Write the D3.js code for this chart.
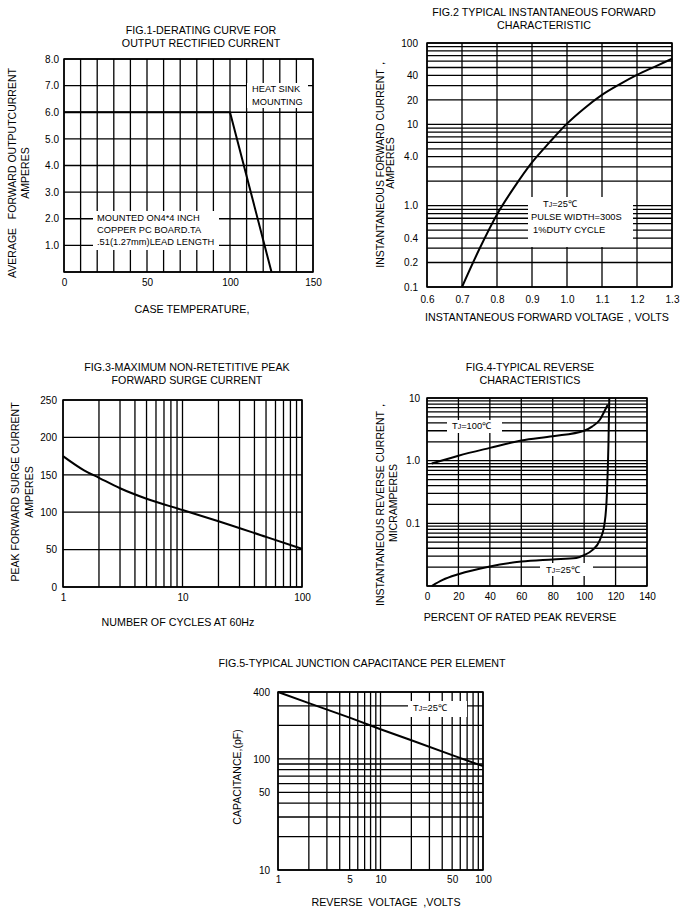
<!DOCTYPE html>
<html>
<head>
<meta charset="utf-8">
<script src="https://cdn.jsdelivr.net/npm/d3@7"></script>
<style>
  body { margin: 0; background: #fff; }
  svg { font-family: "Liberation Sans", Arial, sans-serif; font-size: 10px; }
  .lbl { white-space: pre; }
</style>
</head>
<body>
<svg id="chart" width="683" height="913"></svg>
<script>
// ---- data ----
// Fig.1 derating
const fig1Temp = [0, 100, 125];
const fig1Amps = [6.0, 6.0, 0];
const fig1YTicks = [1, 2, 3, 4, 5, 6, 7, 8];
const fig1XTicks = [0, 50, 100, 150];

// Fig.2 forward characteristic
const fig2Volts = [0.70, 0.75, 0.80, 0.85, 0.90, 0.95, 1.00, 1.05, 1.10, 1.15, 1.20, 1.25, 1.30];
const fig2Amps = [0.1, 0.295, 0.78, 1.7, 3.4, 6.0, 10.2, 15.8, 23, 31, 40.5, 51, 64];
const fig2YTicks = [0.1, 0.2, 0.4, 1, 4, 10, 20, 40, 100];
const fig2YLabels = ["0.1", "0.2", "0.4", "1.0", "4.0", "10", "20", "40", "100"];
const fig2XTicks = [0.6, 0.7, 0.8, 0.9, 1.0, 1.1, 1.2, 1.3];

// Fig.3 surge current
const fig3Cycles = [1, 1.5, 2, 3, 5, 10, 20, 50, 100];
const fig3Amps = [175, 156, 146, 132, 118, 103, 88, 67, 51];
const fig3YTicks = [0, 50, 100, 150, 200, 250];
const fig3XTicks = [1, 10, 100];

// Fig.4 reverse characteristics
const fig4Pct100 = [3, 20, 40, 60, 80, 100, 105, 110, 113, 115];
const fig4Cur100 = [0.9, 1.2, 1.6, 2.1, 2.45, 3.0, 3.5, 4.5, 6.2, 7.8];
const fig4Pct25 = [3, 10, 20, 40, 60, 80, 95, 100, 105, 110, 113, 114.5, 115.5, 116];
const fig4Cur25 = [0.01, 0.0125, 0.0154, 0.0205, 0.0245, 0.0265, 0.028, 0.031, 0.037, 0.054, 0.1, 0.3, 2, 10];
const fig4YTicks = [0.1, 1, 10];
const fig4YLabels = ["0.1", "1.0", "10"];
const fig4XTicks = [0, 20, 40, 60, 80, 100, 120, 140];

// Fig.5 junction capacitance
const fig5Volts = [1, 2, 5, 10, 20, 50, 100];
const fig5Cap = [400, 318, 235, 185, 147, 108, 86];
const fig5YTicks = [10, 50, 100, 400];
const fig5XTicks = [1, 5, 10, 50, 100];

const svg = d3.select("#chart");

function logSteps(lo, hi) {
  const out = [];
  for (let p = Math.floor(Math.log10(lo)); p <= Math.ceil(Math.log10(hi)); p++) {
    for (let m = 1; m < 10; m++) {
      const v = m * Math.pow(10, p);
      if (v >= lo * 0.999 && v <= hi * 1.001) out.push(v);
    }
  }
  return out;
}

function panel(cfg) {
  const { x, y } = cfg;
  const [xa, xb] = x.range();
  const [ya, yb] = y.range(); // ya = bottom
  const g = svg.append("g");

  g.append("g")
    .attr("stroke", "#000")
    .attr("stroke-width", 1.3)
    .call((s) =>
      s.selectAll("line.v").data(cfg.gridX).join("line").attr("class", "v")
        .attr("x1", (d) => x(d)).attr("x2", (d) => x(d))
        .attr("y1", ya).attr("y2", yb))
    .call((s) =>
      s.selectAll("line.h").data(cfg.gridY).join("line").attr("class", "h")
        .attr("x1", xa).attr("x2", xb)
        .attr("y1", (d) => y(d)).attr("y2", (d) => y(d)));

  g.append("rect")
    .attr("x", xa).attr("y", yb)
    .attr("width", xb - xa).attr("height", ya - yb)
    .attr("fill", "none").attr("stroke", "#000").attr("stroke-width", 1.5);

  // white label boxes over the grid
  (cfg.boxes || []).forEach((b) => {
    g.append("rect").attr("x", b.x).attr("y", b.y)
      .attr("width", b.w).attr("height", b.h).attr("fill", "#fff");
    b.lines.forEach((t, i) => {
      const tx = g.append("text").attr("class", "lbl")
        .attr("x", b.tx[i] !== undefined ? b.tx[i] : b.tx[0])
        .attr("y", b.ty + i * b.lh)
        .attr("dy", "0.35em")
        .attr("font-size", b.fs || 9.3);
      if (t.startsWith("TJ")) {
        tx.append("tspan").text("T");
        tx.append("tspan").attr("font-size", "0.75em").text("J");
        tx.append("tspan").text(t.slice(2));
      } else {
        tx.text(t);
      }
    });
  });

  const line = d3.line().x((d) => x(d[0])).y((d) => y(d[1])).curve(cfg.curve || d3.curveLinear);
  cfg.series.forEach((s) => {
    g.append("path")
      .datum(d3.zip(s.xs, s.ys))
      .attr("fill", "none").attr("stroke", "#000")
      .attr("stroke-width", 2).attr("stroke-linejoin", "round")
      .attr("d", line);
  });

  g.append("g")
    .attr("transform", `translate(${xa},0)`)
    .call(d3.axisLeft(y).tickValues(cfg.yTicks).tickFormat(cfg.yFormat).tickSize(0).tickPadding(cfg.yPad))
    .call((a) => a.select(".domain").remove())
    .call((a) => a.selectAll("text").attr("font-size", 10).attr("font-family", null).attr("fill", "#000"));

  g.append("g")
    .attr("transform", `translate(0,${ya})`)
    .call(d3.axisBottom(x).tickValues(cfg.xTicks).tickFormat(cfg.xFormat).tickSize(0).tickPadding(cfg.xPad))
    .call((a) => a.select(".domain").remove())
    .call((a) => a.selectAll("text").attr("font-size", 10).attr("font-family", null).attr("fill", "#000"));

  cfg.title.forEach((t, i) => {
    g.append("text").attr("class", "lbl")
      .attr("x", cfg.titleX).attr("y", cfg.titleY + i * 13.5)
      .attr("dy", "0.35em").attr("text-anchor", "middle").attr("font-size", 10.7)
      .text(t);
  });

  cfg.yLabel.forEach((t, i) => {
    g.append("text").attr("class", "lbl")
      .attr("transform", `translate(${cfg.yLabelX[i]},${cfg.yLabelY}) rotate(-90)`)
      .attr("dy", "0.35em").attr("text-anchor", "middle").attr("font-size", 10.5)
      .text(t);
  });

  g.append("text").attr("class", "lbl")
    .attr("x", cfg.xLabelX).attr("y", cfg.xLabelY)
    .attr("dy", "0.35em").attr("text-anchor", "middle").attr("font-size", 10.7)
    .text(cfg.xLabel);
}

// Fig.1
panel({
  x: d3.scaleLinear().domain([0, 150]).range([64, 313]),
  y: d3.scaleLinear().domain([0, 8]).range([272, 59]),
  gridX: d3.range(0, 151, 10),
  gridY: d3.range(0, 9, 1),
  yTicks: fig1YTicks, yFormat: d3.format(".1f"), yPad: 5,
  xTicks: fig1XTicks, xFormat: d3.format("d"), xPad: 7,
  series: [{ xs: fig1Temp, ys: fig1Amps }],
  boxes: [
    { x: 247, y: 83, w: 61, h: 25, tx: [252], ty: 89, lh: 12.5, lines: ["HEAT SINK", "MOUNTING"] },
    { x: 93, y: 211, w: 126, h: 39, tx: [97], ty: 218, lh: 12, lines: ["MOUNTED ON4*4 INCH", "COPPER PC BOARD.TA", ".51(1.27mm)LEAD LENGTH"] }
  ],
  title: ["FIG.1-DERATING CURVE FOR", "OUTPUT RECTIFIED CURRENT"], titleX: 201, titleY: 30,
  yLabel: ["AVERAGE   FORWARD OUTPUTCURRENT", "AMPERES"], yLabelX: [12, 25], yLabelY: 173,
  xLabel: "CASE TEMPERATURE,", xLabelX: 192, xLabelY: 309
});

// Fig.2
panel({
  x: d3.scaleLinear().domain([0.6, 1.3]).range([427, 672]),
  y: d3.scaleLog().domain([0.1, 100]).range([287, 43]),
  gridX: fig2XTicks,
  gridY: logSteps(0.1, 100),
  yTicks: fig2YTicks, yFormat: (d, i) => fig2YLabels[i], yPad: 9,
  xTicks: fig2XTicks, xFormat: d3.format(".1f"), xPad: 9,
  series: [{ xs: fig2Volts, ys: fig2Amps }],
  curve: d3.curveMonotoneX,
  boxes: [
    { x: 528, y: 197, w: 105, h: 50, tx: [543, 531, 533], ty: 204, lh: 13, lines: ["TJ=25℃", "PULSE WIDTH=300S", "1%DUTY CYCLE"] }
  ],
  title: ["FIG.2 TYPICAL INSTANTANEOUS FORWARD", "CHARACTERISTIC"], titleX: 544, titleY: 12,
  yLabel: ["INSTANTANEOUS FORWARD CURRENT，", "AMPERES"], yLabelX: [380, 390], yLabelY: 163,
  xLabel: "INSTANTANEOUS FORWARD VOLTAGE，VOLTS", xLabelX: 547, xLabelY: 317
});

// Fig.3
panel({
  x: d3.scaleLog().domain([1, 100]).range([63, 302]),
  y: d3.scaleLinear().domain([0, 250]).range([587, 400]),
  gridX: logSteps(1, 100),
  gridY: d3.range(0, 251, 50),
  yTicks: fig3YTicks, yFormat: d3.format("d"), yPad: 6,
  xTicks: fig3XTicks, xFormat: d3.format("d"), xPad: 7,
  series: [{ xs: fig3Cycles, ys: fig3Amps }],
  curve: d3.curveMonotoneX,
  title: ["FIG.3-MAXIMUM NON-RETETITIVE PEAK", "FORWARD SURGE CURRENT"], titleX: 187, titleY: 367,
  yLabel: ["PEAK FORWARD SURGE CURRENT", "AMPERES"], yLabelX: [15, 29], yLabelY: 492,
  xLabel: "NUMBER OF CYCLES AT 60Hz", xLabelX: 178, xLabelY: 622
});

// Fig.4
panel({
  x: d3.scaleLinear().domain([0, 140]).range([427, 647]),
  y: d3.scaleLog().domain([0.01, 10]).range([586, 398]),
  gridX: fig4XTicks,
  gridY: logSteps(0.01, 10),
  yTicks: fig4YTicks, yFormat: (d, i) => fig4YLabels[i], yPad: 7,
  xTicks: fig4XTicks, xFormat: d3.format("d"), xPad: 7,
  series: [{ xs: fig4Pct100, ys: fig4Cur100 }, { xs: fig4Pct25, ys: fig4Cur25 }],
  curve: d3.curveMonotoneX,
  boxes: [
    { x: 447, y: 420, w: 55, h: 13, tx: [452], ty: 426, lh: 12, lines: ["TJ=100℃"] },
    { x: 540, y: 563, w: 53, h: 13, tx: [546], ty: 569.5, lh: 12, lines: ["TJ=25℃"] }
  ],
  title: ["FIG.4-TYPICAL REVERSE", "CHARACTERISTICS"], titleX: 530, titleY: 367,
  yLabel: ["INSTANTANEOUS REVERSE CURRENT，", "MICRAMPERES"], yLabelX: [380, 393], yLabelY: 503,
  xLabel: "PERCENT OF RATED PEAK REVERSE", xLabelX: 520, xLabelY: 617
});

// Fig.5
panel({
  x: d3.scaleLog().domain([1, 100]).range([278, 483]),
  y: d3.scaleLog().domain([10, 400]).range([870, 692]),
  gridX: logSteps(1, 100),
  gridY: logSteps(10, 400),
  yTicks: fig5YTicks, yFormat: d3.format("d"), yPad: 8,
  xTicks: fig5XTicks, xFormat: d3.format("d"), xPad: 6,
  series: [{ xs: fig5Volts, ys: fig5Cap }],
  boxes: [
    { x: 408, y: 701, w: 59, h: 16, tx: [413], ty: 708, lh: 12, lines: ["TJ=25℃"] }
  ],
  title: ["FIG.5-TYPICAL JUNCTION CAPACITANCE PER ELEMENT"], titleX: 362, titleY: 663,
  yLabel: ["CAPACITANCE,(pF)"], yLabelX: [237], yLabelY: 777,
  xLabel: "REVERSE  VOLTAGE  ,VOLTS", xLabelX: 386, xLabelY: 902
});
</script>
</body>
</html>
